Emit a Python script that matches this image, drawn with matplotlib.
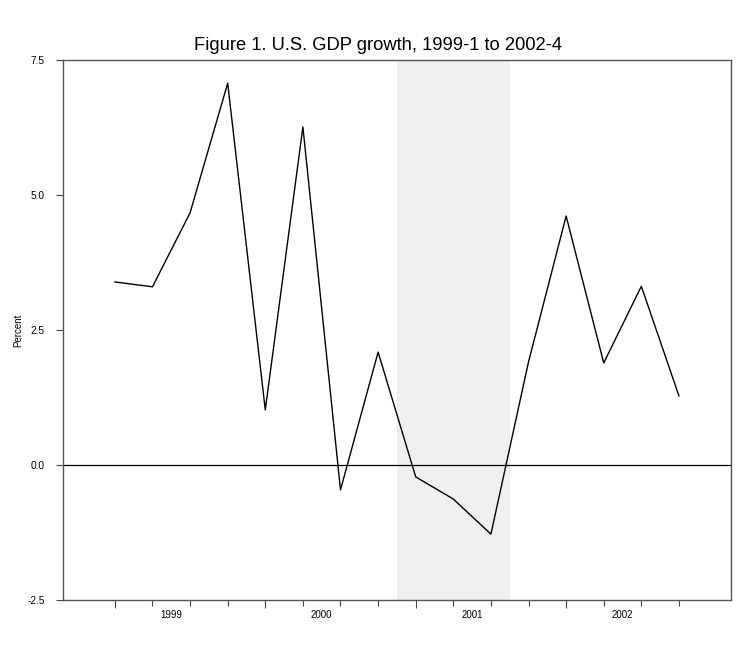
import matplotlib
matplotlib.use("Agg")
import matplotlib.pyplot as plt
import numpy as np

plt.rcParams['font.family'] = ['Liberation Sans', 'DejaVu Sans']

# quarterly GDP growth, 1999Q1 .. 2002Q4 (annualized percent)
quarters = ['1999-1', '1999-2', '1999-3', '1999-4',
            '2000-1', '2000-2', '2000-3', '2000-4',
            '2001-1', '2001-2', '2001-3', '2001-4',
            '2002-1', '2002-2', '2002-3', '2002-4']
growth = [3.39, 3.30, 4.67, 7.07, 1.02, 6.26, -0.46, 2.09,
          -0.22, -0.63, -1.28, 1.91, 4.61, 1.89, 3.31, 1.28]
years = ['1999', '2000', '2001', '2002']
recession = (7.5, 10.5)  # shaded span in quarter index units

x = np.arange(len(quarters))

fig = plt.figure(figsize=(7.55, 6.65), dpi=100)
ax = fig.add_axes([0.0834, 0.0977, 0.8846, 0.8121])

ax.axvspan(recession[0], recession[1], color='#f0f0f0', lw=0, zorder=0)
ax.axhline(0, color='black', lw=0.9, zorder=1)
ax.plot(x, growth, color='black', lw=1.0, zorder=2)

ax.set_xlim(-1.38, 16.38)
ax.set_ylim(-2.5, 7.5)

ax.set_yticks([-2.5, 0.0, 2.5, 5.0, 7.5])
ax.set_yticklabels(['-2.5', '0.0', '2.5', '5.0', '7.5'], fontsize=7.3)
ax.tick_params(axis='y', length=5, width=0.8, color='#444444', pad=8)

# major ticks every first quarter, minor every quarter, year labels in between
ax.set_xticks(x[::4])
ax.set_xticklabels([])
ax.set_xticks(x, minor=True)
ax.tick_params(axis='x', which='major', length=6, width=0.8, color='#444444')
ax.tick_params(axis='x', which='minor', length=4, width=0.8, color='#444444')
xtrans = ax.get_xaxis_transform()
for i, yr in enumerate(years):
    ax.text(i * 4 + 1.5, -0.018, yr, ha='center', va='top', fontsize=7,
            transform=xtrans)

for s in ax.spines.values():
    s.set_color('#555555')
    s.set_linewidth(1.0)

ax.set_ylabel('Percent', fontsize=7, labelpad=3)
fig.text(0.5, 0.932, 'Figure 1. U.S. GDP growth, 1999-1 to 2002-4',
         ha='center', va='center', fontsize=13.2)

fig.savefig('out.png', dpi=100)
